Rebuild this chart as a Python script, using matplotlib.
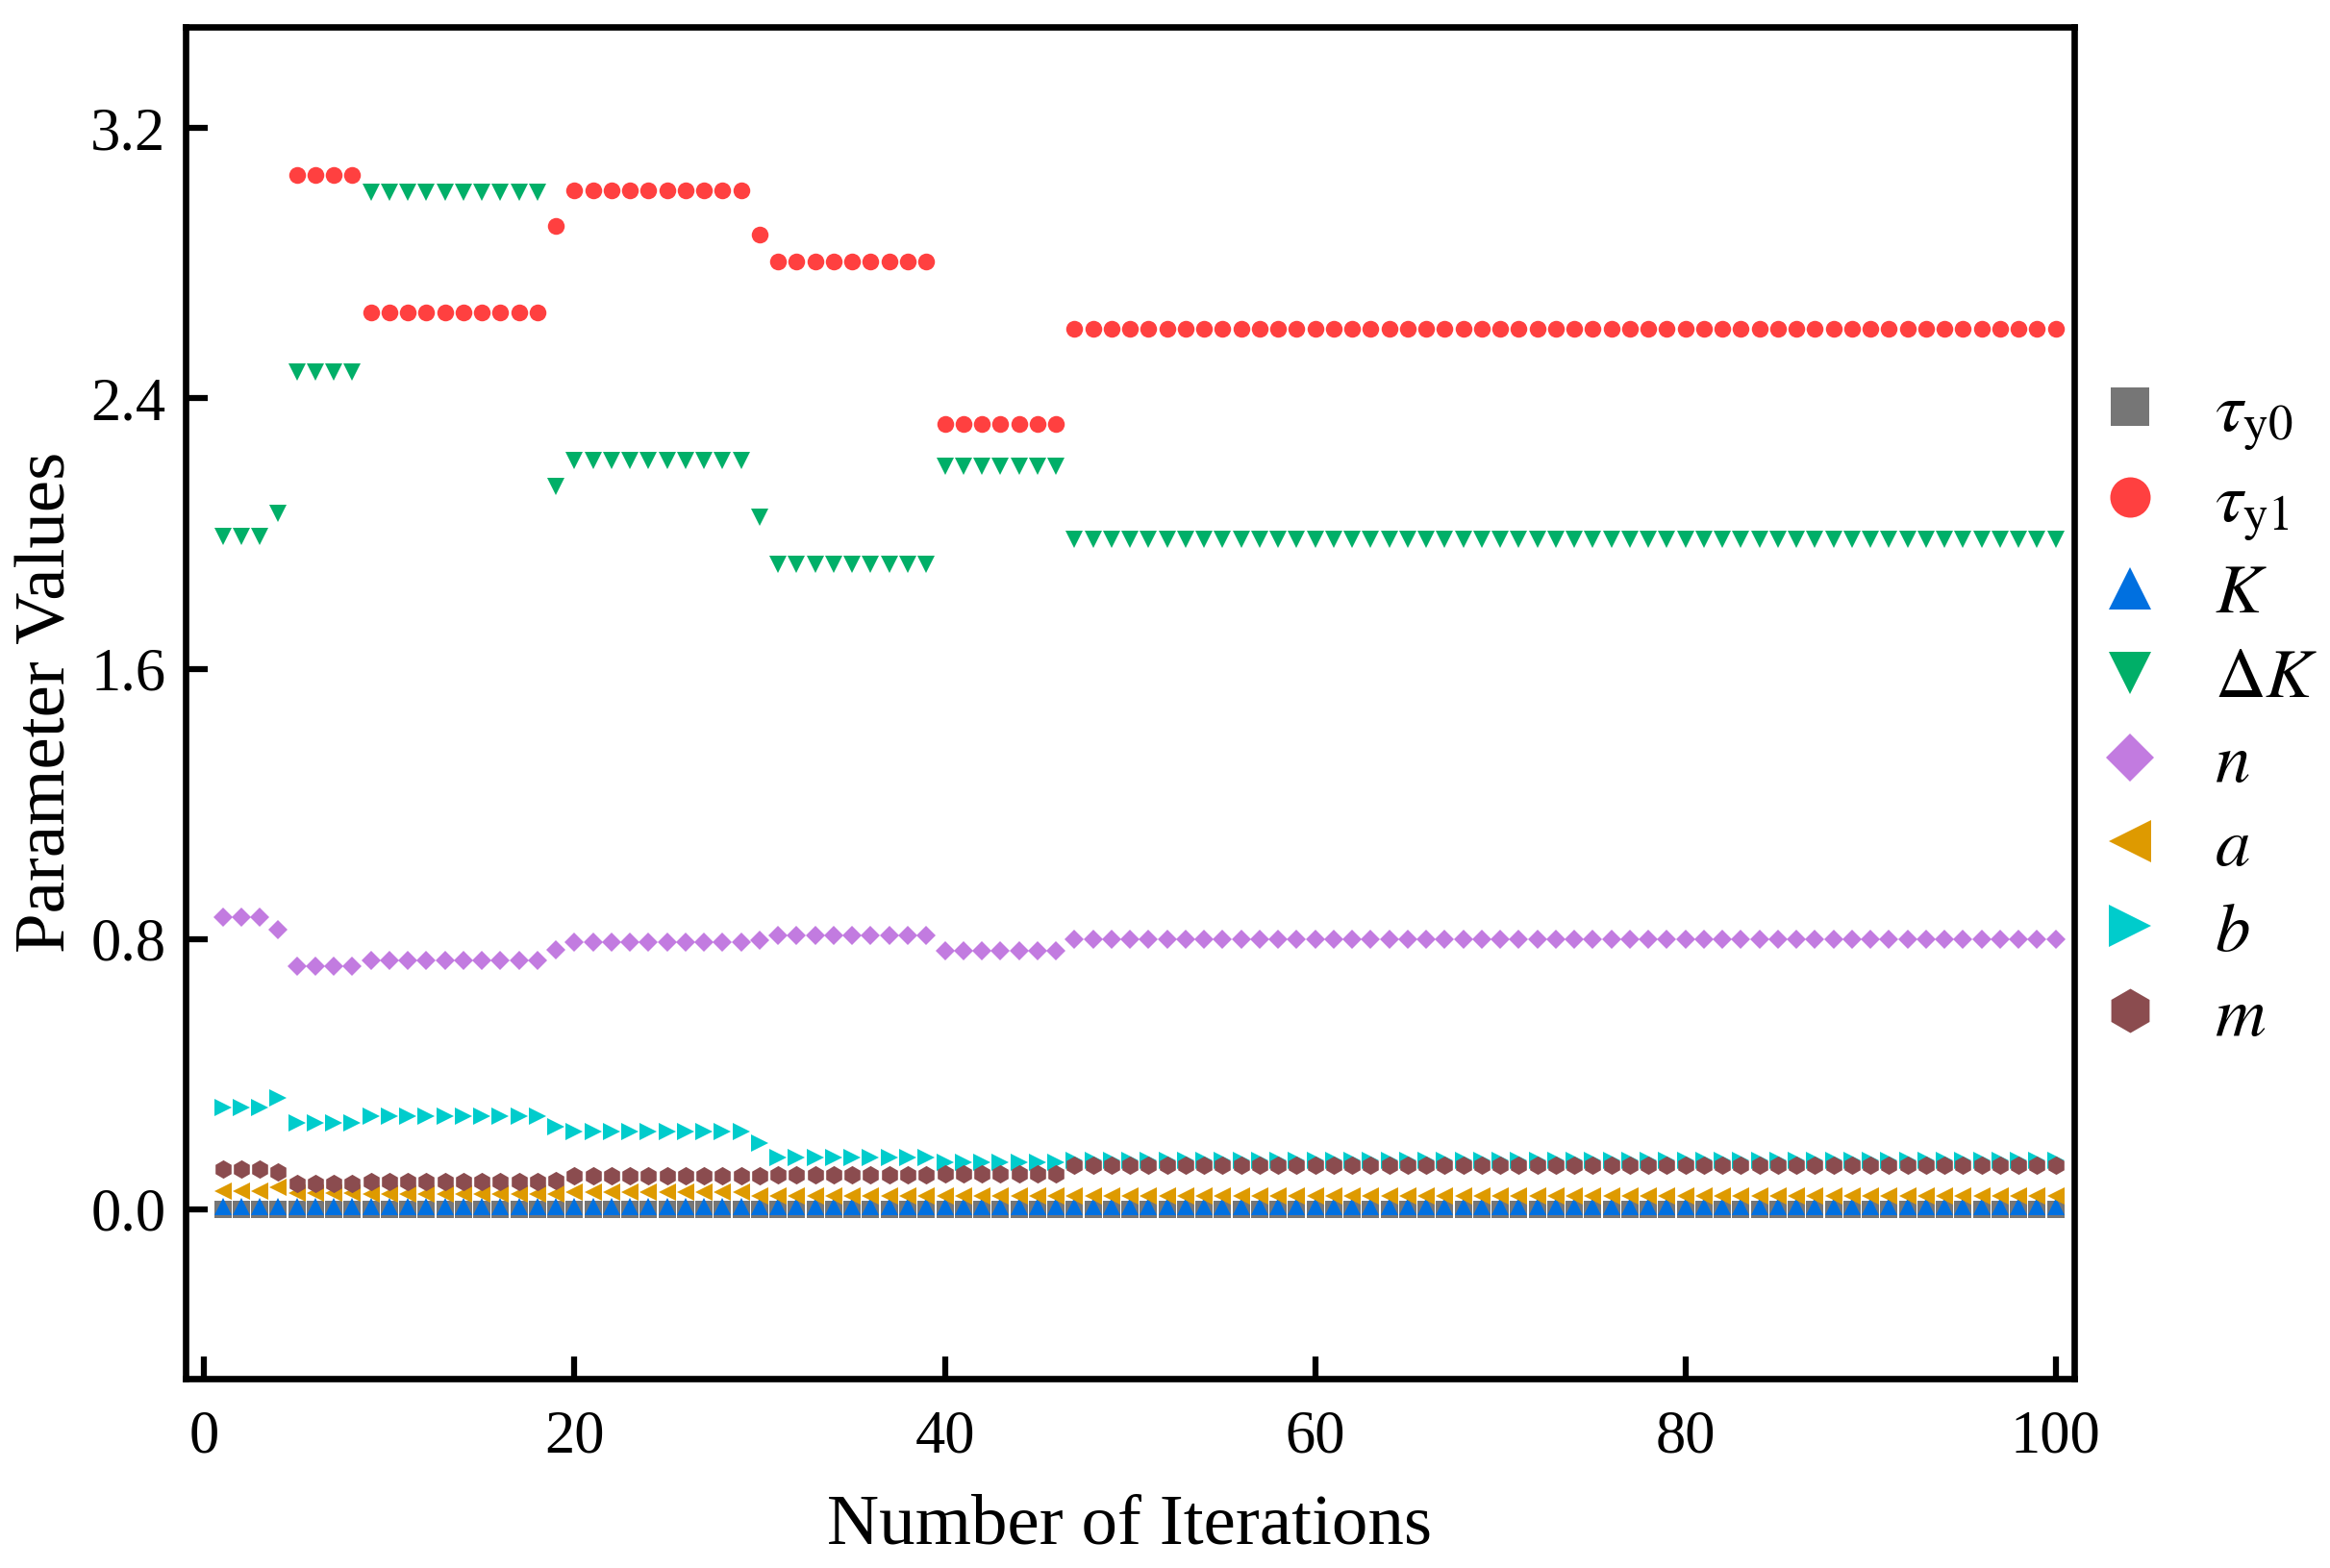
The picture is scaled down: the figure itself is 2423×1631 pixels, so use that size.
import numpy as np
import matplotlib
matplotlib.use('Agg')
import matplotlib.pyplot as plt

plt.rcParams['font.family'] = ['Liberation Serif', 'DejaVu Serif']
plt.rcParams['mathtext.fontset'] = 'stix'

#values read as plateaus: iterations 1-3, 4, 5-8, 9-18, 19, 20-29, 30, 31-39, 40-46, 47-100
seg_len = [3, 1, 4, 10, 1, 10, 1, 9, 7, 54]
iterations = np.arange(1, 101)

tau_y0 = [0.0, 0.0, 0.0, 0.0, 0.0, 0.0, 0.0, 0.0, 0.0, 0.0]
tau_y1 = [np.nan, np.nan, 3.06, 2.655, 2.91, 3.015, 2.885, 2.805, 2.325, 2.607]
K      = [0.008, 0.008, 0.008, 0.008, 0.008, 0.008, 0.008, 0.008, 0.008, 0.007]
dK     = [1.992, 2.059, 2.477, 3.010, 2.138, 2.217, 2.047, 1.910, 2.198, 1.984]
n      = [0.864, 0.828, 0.720, 0.737, 0.769, 0.790, 0.796, 0.810, 0.765, 0.800]
a      = [0.055, 0.065, 0.047, 0.046, 0.046, 0.052, 0.040, 0.040, 0.040, 0.039]
b      = [0.300, 0.331, 0.257, 0.275, 0.244, 0.231, 0.195, 0.153, 0.139, 0.144]
m      = [0.119, 0.111, 0.076, 0.081, 0.084, 0.099, 0.100, 0.101, 0.104, 0.131]

labels = [r'$\tau_{\mathrm{y0}}$', r'$\tau_{\mathrm{y1}}$', r'$K$', r'$\Delta K$',
          r'$n$', r'$a$', r'$b$', r'$m$']
series = [tau_y0, tau_y1, K, dK, n, a, b, m]
markers = ['s', 'o', '^', 'v', 'D', '<', '>', 'h']
sizes = [4.1, 4.2, 4.4, 4.4, 3.5, 4.4, 4.4, 4.6]
colors = ['#767676', '#FF4040', '#0070E0', '#00AF68', '#C27BE0', '#DE9A00', '#00CCCC', '#8B4C4F']

fig = plt.figure(figsize=(2423/300, 1631/300), dpi=300)
ax = fig.add_axes([0.0797, 0.121, 0.8105, 0.862])

for vals, lab, mk, ms, c in zip(series, labels, markers, sizes, colors):
    y = np.repeat(vals, seg_len)
    ax.plot(iterations, y, ls='none', marker=mk, ms=ms, color=c, mec='none', label=lab)

ax.set_xlim(-1, 101)
ax.set_ylim(-0.5, 3.5)
ax.set_xticks([0, 20, 40, 60, 80, 100])
ax.set_yticks([0.0, 0.8, 1.6, 2.4, 3.2])
ax.set_yticklabels(['0.0', '0.8', '1.6', '2.4', '3.2'])
ax.tick_params(direction='in', length=5.5, width=1.5, labelsize=15, top=False, right=False)
ax.tick_params(axis='x', pad=8)
ax.tick_params(axis='y', pad=5)
for sp in ax.spines.values():
    sp.set_linewidth(1.6)

ax.set_xlabel('Number of Iterations', fontsize=18, labelpad=7)
ax.set_ylabel('Parameter Values', fontsize=18, labelpad=2.5)

ax.legend(loc='center left', bbox_to_anchor=(1.0, 0.49), frameon=False, fontsize=17.5,
          markerscale=2.4, handlelength=0.8, handletextpad=0.8, borderpad=0.4,
          labelspacing=0.28, borderaxespad=0.0)

fig.savefig('out.png', dpi=300)
